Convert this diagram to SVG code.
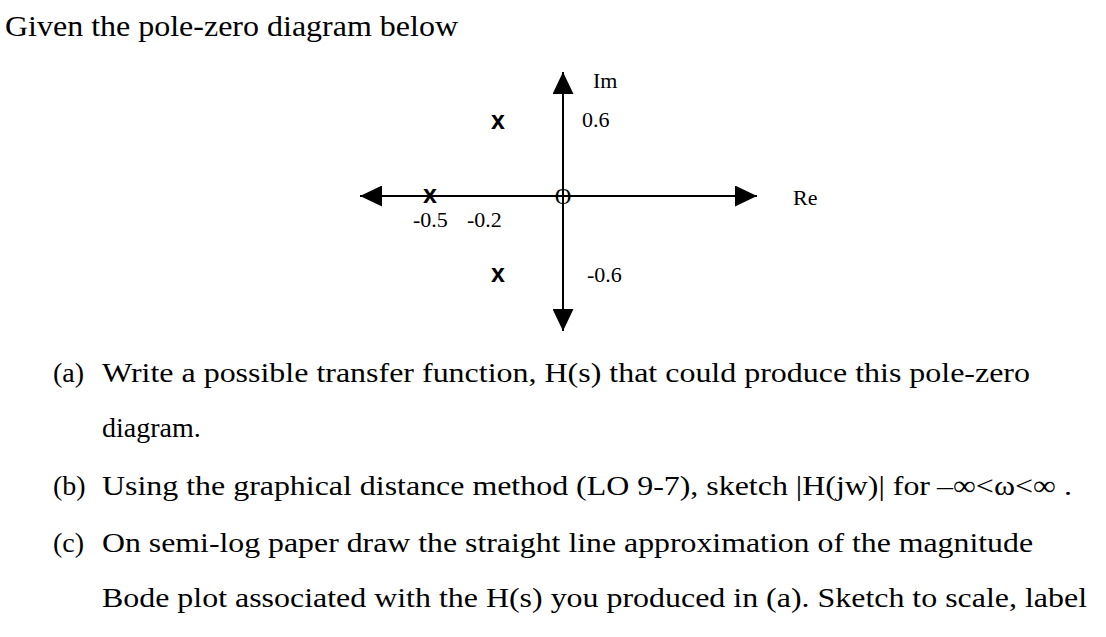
<svg xmlns="http://www.w3.org/2000/svg" width="1106" height="637" viewBox="0 0 1106 637">
<style>
.body{font-size:28px}
.lbl{font-size:22px}
.pole{font-size:25px;font-weight:bold;fill:#000;text-anchor:middle}
.ax{stroke:#000;stroke-width:2;fill:none}
</style>
<defs>
<marker id="ah" markerUnits="userSpaceOnUse" markerWidth="22" markerHeight="21" refX="22" refY="10.5" orient="auto" viewBox="0 0 22 21">
<path d="M0,0 L22,10.5 L0,21 z" fill="#000"/>
</marker>
</defs>
<rect width="1106" height="637" fill="#fff"/>
<text font-family="Liberation Serif, Times New Roman, serif" fill="#000" x="5" y="36" font-size="30" textLength="453" lengthAdjust="spacingAndGlyphs">Given the pole-zero diagram below</text>

<g id="connectors">
<line class="ax" x1="563" y1="196" x2="563" y2="72" marker-end="url(#ah)"/>
<line class="ax" x1="563" y1="196" x2="563" y2="331" marker-end="url(#ah)"/>
<line class="ax" x1="563" y1="196" x2="360" y2="196" marker-end="url(#ah)"/>
<line class="ax" x1="563" y1="196" x2="757" y2="196" marker-end="url(#ah)"/>
</g>
<g id="labels" font-family="Liberation Serif, Times New Roman, serif" fill="#000">
<text class="lbl" x="593" y="88">Im</text>
<text class="lbl" x="582" y="127">0.6</text>
<text class="lbl" x="793" y="205">Re</text>
<text class="lbl" x="413" y="227">-0.5</text>
<text class="lbl" x="467" y="227">-0.2</text>
<text class="lbl" x="587" y="282">-0.6</text>
</g>
<g id="pole-upper" font-family="Liberation Sans, Arial, sans-serif"><text class="pole" x="498" y="129">x</text></g>
<g id="pole-lower" font-family="Liberation Sans, Arial, sans-serif"><text class="pole" x="498" y="282">x</text></g>
<g id="pole-real" font-family="Liberation Sans, Arial, sans-serif"><text class="pole" x="430" y="203">x</text></g>
<g id="zero" font-family="Liberation Serif, Times New Roman, serif"><text fill="#000" x="563" y="204" font-size="23" text-anchor="middle">O</text></g>

<g id="questions" class="body" font-family="Liberation Serif, Times New Roman, serif" fill="#000">
<text x="53" y="382">(a)</text>
<text x="102" y="382" textLength="928" lengthAdjust="spacingAndGlyphs">Write a possible transfer function, H(s) that could produce this pole-zero</text>
<text x="102" y="437">diagram.</text>
<text x="53" y="495">(b)</text>
<text x="102" y="495" textLength="828" lengthAdjust="spacingAndGlyphs">Using the graphical distance method (LO 9-7), sketch |H(jw)| for</text>
<text x="937" y="495" textLength="135" lengthAdjust="spacingAndGlyphs">–∞&lt;ω&lt;∞ .</text>
<text x="53" y="552">(c)</text>
<text x="102" y="552" textLength="931" lengthAdjust="spacingAndGlyphs">On semi-log paper draw the straight line approximation of the magnitude</text>
<text x="102" y="607" textLength="985" lengthAdjust="spacingAndGlyphs">Bode plot associated with the H(s) you produced in (a). Sketch to scale, label</text>
</g>
</svg>
